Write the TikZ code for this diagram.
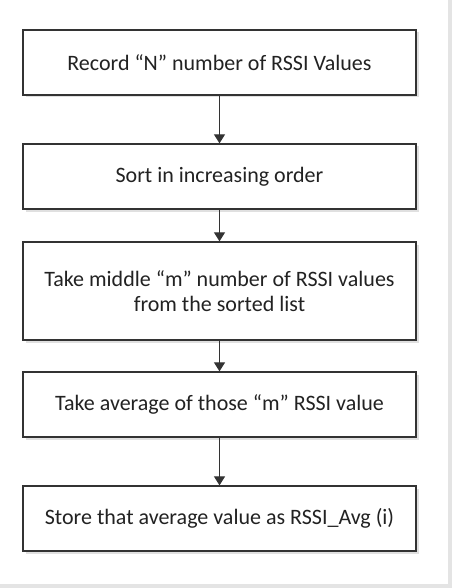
\documentclass[tikz,border=0pt]{standalone}
\usepackage{fontspec}
\setmainfont{Carlito}
\usetikzlibrary{arrows.meta,shadows}
\definecolor{edge}{HTML}{333333}
\definecolor{txt}{HTML}{222222}
\definecolor{frame}{HTML}{E4E4E4}
\tikzset{
  stepbox/.style={draw=edge, line width=1.3pt, fill=white, minimum width=393pt, inner sep=0pt,
    font=\fontsize{22}{25}\selectfont, text=txt, align=center,
    drop shadow={shadow xshift=2.5pt, shadow yshift=-2.5pt, fill=black!12, opacity=1}},
  flow/.style={draw=edge, line width=1.2pt, -{Triangle[width=11pt,length=9pt]}}
}
\begin{document}
\begin{tikzpicture}[x=1pt,y=-1pt]
\useasboundingbox (0,0) rectangle (452,588);
\fill[frame] (448,0) rectangle (452,588);
\fill[frame] (0,584) rectangle (452,588);
\node[stepbox, minimum height=65pt] (b1) at (219.5,62.5) {Record “N” number of RSSI Values};
\node[stepbox, minimum height=65pt] (b2) at (219.5,176.5) {Sort in increasing order};
\node[stepbox, minimum height=98pt] (b3) at (219.5,291) {Take middle “m” number of RSSI values\\from the sorted list};
\node[stepbox, minimum height=65pt] (b4) at (219.5,404.5) {Take average of those “m” RSSI value};
\node[stepbox, minimum height=65pt] (b5) at (219.5,518.5) {Store that average value as RSSI\_Avg (i)};
\draw[flow] (b1) -- (b2);
\draw[flow] (b2) -- (b3);
\draw[flow] (b3) -- (b4);
\draw[flow] (b4) -- (b5);
\end{tikzpicture}
\end{document}
